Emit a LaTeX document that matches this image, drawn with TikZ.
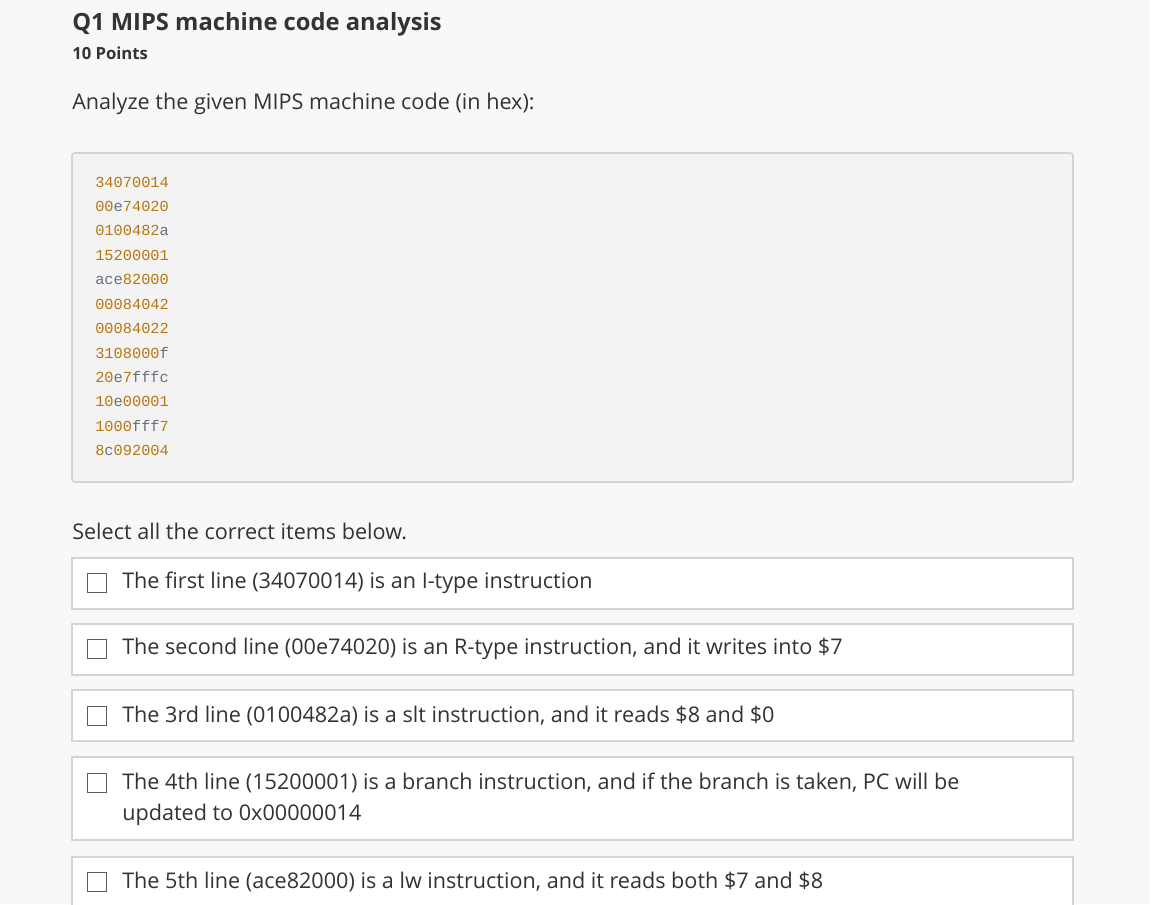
\documentclass[tikz,border=0pt]{standalone}
\usepackage{fontspec}
\setmainfont{Open Sans}
\setmonofont{Liberation Mono}
\usetikzlibrary{positioning}
\definecolor{pagebg}{HTML}{F8F8F8}
\definecolor{codebg}{HTML}{F3F3F3}
\definecolor{boxline}{HTML}{D4D4D4}
\definecolor{txt}{HTML}{333333}
\definecolor{numc}{HTML}{B8770E}
\definecolor{letc}{HTML}{6A7080}
\newcommand{\lt}[1]{\textcolor{letc}{#1}}
\tikzset{
  optbox/.style={draw=boxline,fill=white,line width=1.2pt},
  tick/.style={draw=txt!80,line width=1pt,fill=white,minimum size=14pt,inner sep=0pt},
  opttext/.style={anchor=west,text=txt,font=\fontsize{16.2}{19}\selectfont,inner sep=0pt,align=left},
  codeline/.style={anchor=west,text=numc,font=\ttfamily\fontsize{11.5}{13}\selectfont,inner sep=0pt}
}
\begin{document}
\begin{tikzpicture}[x=0.75pt,y=-0.75pt]
  \useasboundingbox (0,0) rectangle (1153,904);
  \clip (0,0) rectangle (1153,904);
  \fill[pagebg] (0,0) rectangle (1153,904);
  \fill[white] (1150,0) rectangle (1153,904);
  \node[anchor=west,text=txt,font=\bfseries\fontsize{17.8}{22}\selectfont,inner sep=0pt] (title) at (72,24) {Q1 MIPS machine code analysis};
  \node[anchor=west,text=txt,font=\bfseries\fontsize{12.5}{15}\selectfont,inner sep=0pt] (pts) at (72,53) {10 Points};
  \node[opttext] (intro) at (72,104) {Analyze the given MIPS machine code (in hex):};

  \draw[draw=boxline,fill=codebg,line width=1.2pt,rounded corners=2pt] (72,153) rectangle (1073,482); %code box
  \foreach \code [count=\i from 0] in {34070014,00\lt{e}74020,0100482\lt{a},15200001,\lt{ace}82000,00084042,00084022,3108000\lt{f},20\lt{e}7\lt{fffc},10\lt{e}00001,1000\lt{fff}7,8\lt{c}092004}
    \node[codeline] (c\i) at (95,182+24.4*\i) {\code};

  \node[opttext] (sel) at (72,531) {Select all the correct items below.};

  \foreach \top/\bot in {558/609,624/675,690/741,757/840,857/915}
    \draw[optbox] (72,\top) rectangle (1073,\bot);
  \foreach \y/\lab [count=\i] in {
    583/{The first line (34070014) is an I-type instruction},
    649/{The second line (00e74020) is an R-type instruction, and it writes into \$7},
    716/{The 3rd line (0100482a) is a slt instruction, and it reads \$8 and \$0},
    783/{The 4th line (15200001) is a branch instruction, and if the branch is taken, PC will be},
    882/{The 5th line (ace82000) is a lw instruction, and it reads both \$7 and \$8}} {
    \node[tick] (box\i) at (97,\y) {};
    \node[opttext] (opt\i) at (122,\y) {\lab};
  }
  \node[opttext] (opt4b) at (122,815) {updated to 0x00000014};
\end{tikzpicture}
\end{document}
